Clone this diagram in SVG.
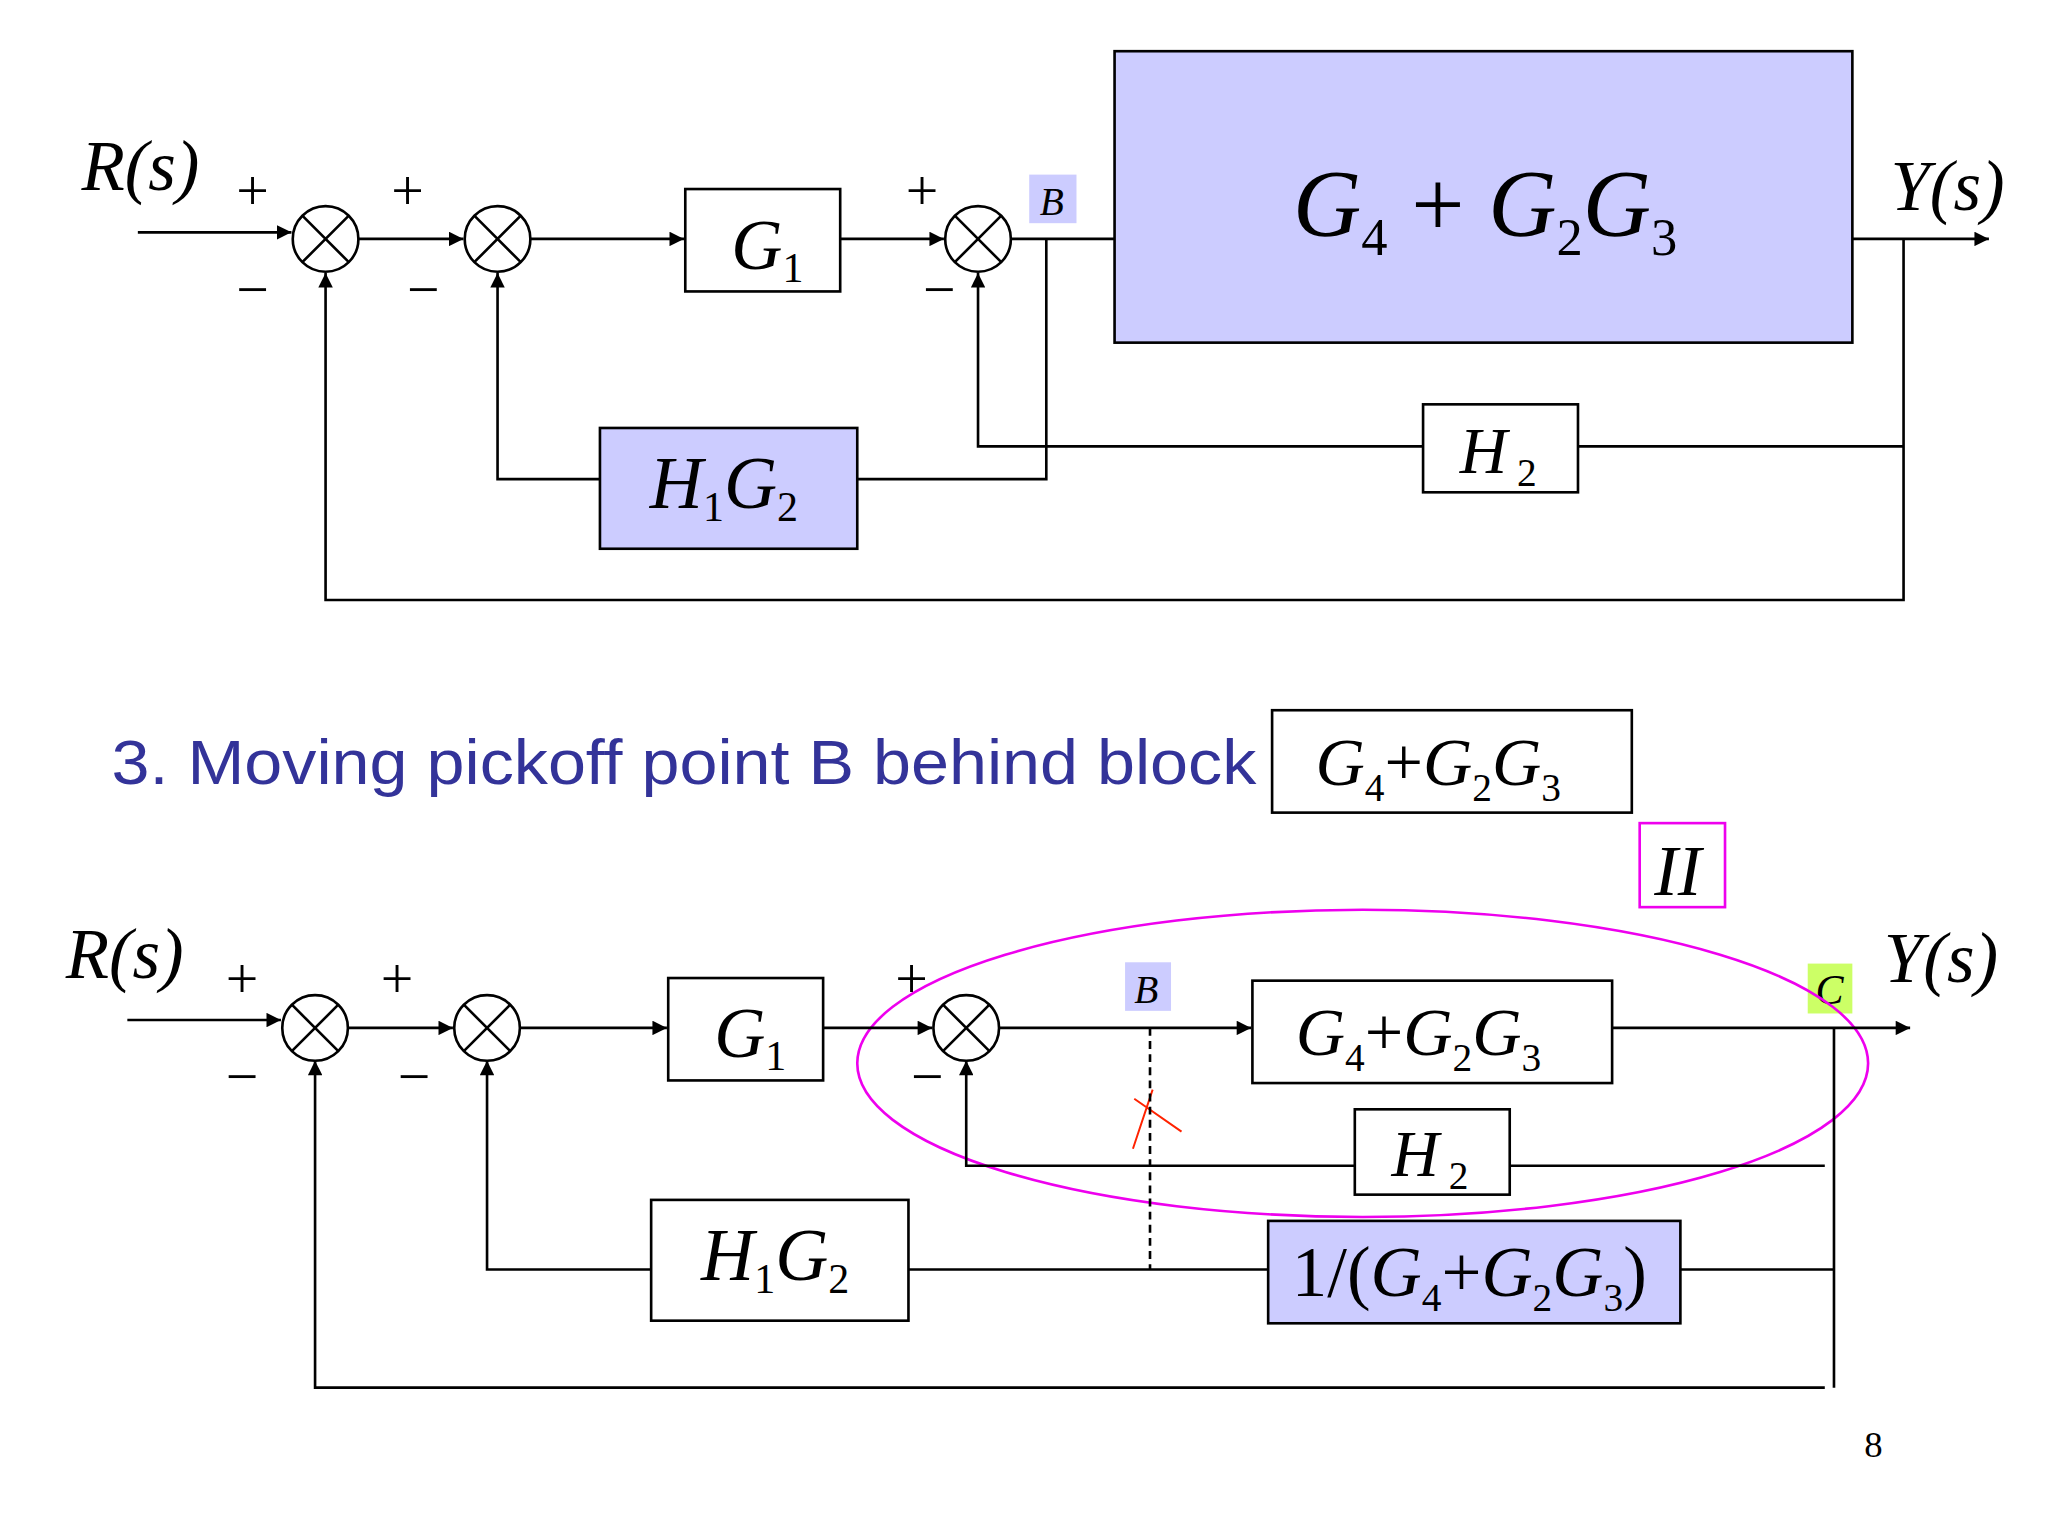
<svg xmlns="http://www.w3.org/2000/svg" width="2048" height="1536" viewBox="0 0 2048 1536">
<defs>
<marker id="ar" viewBox="0 0 10 10" refX="10" refY="5" markerWidth="13" markerHeight="11" markerUnits="userSpaceOnUse" orient="auto"><path d="M0,0 L10,5 L0,10 z" fill="#000"/></marker>
<style>
.l{stroke:#000;stroke-width:2;fill:none}
.b{stroke:#000;stroke-width:2;fill:#fff}
.f{stroke:#000;stroke-width:2;fill:#ccccff}
.t{font-family:"Liberation Serif","Times New Roman",serif;font-style:italic;fill:#000}
.s{font-style:normal}
.p{font-family:"Liberation Serif",serif;font-size:44px;fill:#000}
</style>
<g id="sj"><circle r="25" class="b"/><path d="M-17.7,-17.7 L17.7,17.7 M-17.7,17.7 L17.7,-17.7" class="l"/></g>
</defs>
<rect width="2048" height="1536" fill="#fff"/>
<g transform="scale(1.3128)">
<g id="top">
<text class="t" x="62" y="145" font-size="54">R(s)</text>
<text class="p" x="180" y="160">+</text><text class="p" x="180" y="235">−</text>
<text class="p" x="298" y="160">+</text><text class="p" x="310" y="235">−</text>
<text class="p" x="690" y="160">+</text><text class="p" x="703" y="235">−</text>
<use id="s1" href="#sj" x="248" y="182"/>
<use id="s2" href="#sj" x="379" y="182"/>
<use id="s3" href="#sj" x="745" y="182"/>
<g id="g1"><rect x="522" y="144" width="118" height="78" class="b"/><text class="t" x="557" y="205" font-size="54">G<tspan class="s" font-size="32" dy="10">1</tspan></text></g>
<g id="bl"><rect x="784" y="133" width="36" height="37" fill="#ccccff"/><text class="t" x="792" y="164" font-size="30">B</text></g>
<g id="big"><rect x="849" y="39" width="562" height="222" class="f"/><text class="t" x="985" y="180" font-size="72">G<tspan class="s" font-size="40" dy="14">4</tspan><tspan class="s" dy="-14"> + </tspan>G<tspan class="s" font-size="40" dy="14">2</tspan><tspan dy="-14">G</tspan><tspan class="s" font-size="40" dy="14">3</tspan></text></g>
<text class="t" x="1440" y="160" font-size="54">Y(s)</text>
<g id="h1g2"><rect x="457" y="326" width="196" height="92" class="f"/><text class="t" x="495" y="387" font-size="56">H<tspan class="s" font-size="32" dy="10">1</tspan><tspan dy="-10">G</tspan><tspan class="s" font-size="32" dy="10">2</tspan></text></g>
<g id="h2"><rect x="1084" y="308" width="118" height="67" class="b"/><text class="t" x="1112" y="360" font-size="50">H<tspan class="s" font-size="30" dy="10"> 2</tspan></text></g>
</g>
<g id="conn-top">
<path class="l" d="M105,177 L222,177" marker-end="url(#ar)"/>
<path class="l" d="M273,182 L353,182" marker-end="url(#ar)"/>
<path class="l" d="M404,182 L521,182" marker-end="url(#ar)"/>
<path class="l" d="M640,182 L719,182" marker-end="url(#ar)"/>
<path class="l" d="M770,182 L849,182"/>
<path class="l" d="M1411,182 L1515,182" marker-end="url(#ar)"/>
<path class="l" d="M797,182 L797,365 L653,365"/>
<path class="l" d="M457,365 L379,365 L379,208" marker-end="url(#ar)"/>
<path class="l" d="M1450,182 L1450,457 L248,457 L248,208" marker-end="url(#ar)"/>
<path class="l" d="M1450,340 L1202,340"/>
<path class="l" d="M1084,340 L745,340 L745,208" marker-end="url(#ar)"/>
</g>
<text x="85" y="597" font-family="Liberation Sans,Arial,sans-serif" font-size="48" fill="#333399" textLength="872" lengthAdjust="spacingAndGlyphs">3. Moving pickoff point B behind block</text>
<g id="blk"><rect x="969" y="541" width="274" height="78" class="b"/><text class="t" x="1002" y="598" font-size="52">G<tspan class="s" font-size="30" dy="12">4</tspan><tspan class="s" dy="-12">+</tspan>G<tspan class="s" font-size="30" dy="12">2</tspan><tspan dy="-12">G</tspan><tspan class="s" font-size="30" dy="12">3</tspan></text></g>
<g id="ii"><rect x="1249" y="627" width="65" height="64" fill="#fff" stroke="#ee00ee" stroke-width="2"/><text class="t" x="1260" y="682" font-size="54">II</text></g>
<g id="bottom">
<text class="t" x="50" y="745" font-size="54">R(s)</text>
<text class="p" x="172" y="760">+</text><text class="p" x="172" y="835">−</text>
<text class="p" x="290" y="760">+</text><text class="p" x="303" y="835">−</text>
<text class="p" x="682" y="760">+</text><text class="p" x="694" y="835">−</text>
<use id="b1" href="#sj" x="240" y="783"/>
<use id="b2" href="#sj" x="371" y="783"/>
<use id="b4" href="#sj" x="736" y="783"/>
<g id="bg1"><rect x="509" y="745" width="118" height="78" class="b"/><text class="t" x="544" y="805" font-size="54">G<tspan class="s" font-size="32" dy="10">1</tspan></text></g>
<g id="bb"><rect x="857" y="733" width="35" height="37" fill="#ccccff"/><text class="t" x="864" y="764" font-size="30">B</text></g>
<g id="bg"><rect x="954" y="747" width="274" height="78" class="b"/><text class="t" x="987" y="804" font-size="52">G<tspan class="s" font-size="30" dy="12">4</tspan><tspan class="s" dy="-12">+</tspan>G<tspan class="s" font-size="30" dy="12">2</tspan><tspan dy="-12">G</tspan><tspan class="s" font-size="30" dy="12">3</tspan></text></g>
<g id="cl"><rect x="1377" y="734" width="34" height="38" fill="#ccff66"/><text class="t" x="1383" y="765" font-size="32">C</text></g>
<text class="t" x="1435" y="748" font-size="54">Y(s)</text>
<g id="bh2"><rect x="1032" y="845" width="118" height="65" class="b"/><text class="t" x="1060" y="896" font-size="50">H<tspan class="s" font-size="30" dy="10"> 2</tspan></text></g>
<g id="bh1g2"><rect x="496" y="914" width="196" height="92" class="b"/><text class="t" x="534" y="975" font-size="56">H<tspan class="s" font-size="32" dy="10">1</tspan><tspan dy="-10">G</tspan><tspan class="s" font-size="32" dy="10">2</tspan></text></g>
<g id="inv"><rect x="966" y="930" width="314" height="78" class="f"/><text class="t" x="984" y="987" font-size="54"><tspan class="s">1/(</tspan>G<tspan class="s" font-size="30" dy="12">4</tspan><tspan class="s" dy="-12">+</tspan>G<tspan class="s" font-size="30" dy="12">2</tspan><tspan dy="-12">G</tspan><tspan class="s" font-size="30" dy="12">3</tspan><tspan class="s" dy="-12">)</tspan></text></g>
<path d="M864,837 L900,862 M878,830 L863,875" stroke="#ff2200" stroke-width="1.5" fill="none"/>
<ellipse cx="1038" cy="810" rx="385" ry="117" fill="none" stroke="#ee00ee" stroke-width="2"/>
</g>
<g id="conn-bottom">
<path class="l" d="M97,777 L214,777" marker-end="url(#ar)"/>
<path class="l" d="M265,783 L345,783" marker-end="url(#ar)"/>
<path class="l" d="M396,783 L508,783" marker-end="url(#ar)"/>
<path class="l" d="M627,783 L710,783" marker-end="url(#ar)"/>
<path class="l" d="M761,783 L953,783" marker-end="url(#ar)"/>
<path class="l" d="M1228,783 L1455,783" marker-end="url(#ar)"/>
<path class="l" d="M1397,783 L1397,1057"/>
<path class="l" d="M1390,888 L1150,888"/>
<path class="l" d="M1032,888 L736,888 L736,808" marker-end="url(#ar)"/>
<path class="l" d="M876,783 L876,967" stroke-dasharray="6,4" stroke-width="1.5"/>
<path class="l" d="M692,967 L966,967"/>
<path class="l" d="M496,967 L371,967 L371,808" marker-end="url(#ar)"/>
<path class="l" d="M1280,967 L1397,967"/>
<path class="l" d="M1390,1057 L240,1057 L240,808" marker-end="url(#ar)"/>
</g>
<text class="p" x="1420" y="1110" font-size="28" style="font-size:28px">8</text>
</g>
</svg>
